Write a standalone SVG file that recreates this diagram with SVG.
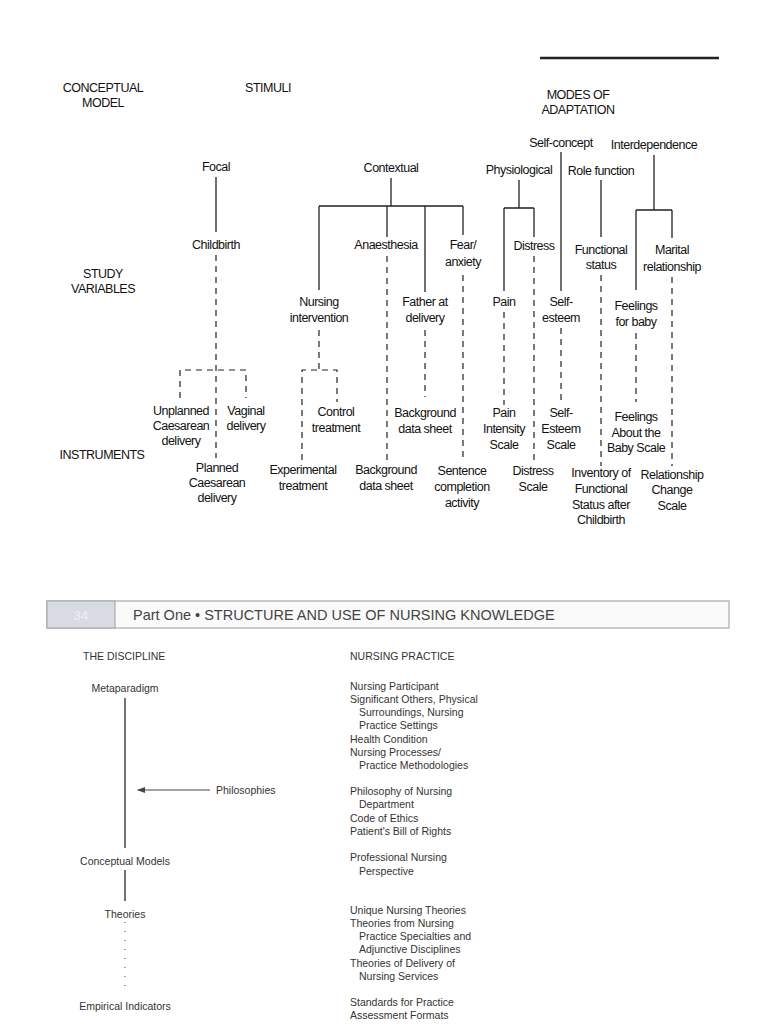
<svg xmlns="http://www.w3.org/2000/svg" width="768" height="1024" viewBox="0 0 768 1024">
<style>
.t{font-family:"Liberation Sans",Arial,sans-serif;font-size:12.5px;fill:#111;text-anchor:middle;letter-spacing:-0.5px}
.b{font-family:"Liberation Sans",Arial,sans-serif;font-size:10.5px;fill:#333}
.c{text-anchor:middle}
.s{stroke:#222;stroke-width:1.3;fill:none}
.d{stroke:#222;stroke-width:1.2;fill:none;stroke-dasharray:6 5}
.g{stroke:#444;stroke-width:1.5;fill:none}
</style>
<defs><marker id="ar" markerWidth="8" markerHeight="6" refX="7" refY="3" orient="auto" markerUnits="userSpaceOnUse"><path d="M0,0 L8,3 L0,6 Z" fill="#444"/></marker></defs>
<rect width="768" height="1024" fill="#fff"/>
<line x1="540" y1="58" x2="719" y2="58" stroke="#222" stroke-width="2.5"/>
<g id="headers">
<text class="t" x="103" y="92">CONCEPTUAL</text><text class="t" x="103" y="107">MODEL</text>
<text class="t" x="268" y="92">STIMULI</text>
<text class="t" x="578" y="99">MODES OF</text><text class="t" x="578" y="114">ADAPTATION</text>
<text class="t" x="103" y="278">STUDY</text><text class="t" x="103" y="293">VARIABLES</text>
<text class="t" x="102" y="459">INSTRUMENTS</text>
</g>
<g id="connectors">
<path class="s" d="M216,177V232 M391,178V206 M319,206H463 M319,206V290 M387,206V237 M425,206V292 M463,206V235 M519,180V208 M504,208H534 M504,208V291 M534,208V237 M561,152V291 M601,180V237 M654,155V210 M636,210H672 M636,210V290 M672,210V238"/>
<path class="d" d="M216,255V458 M180,398V370H246V398 M319,330V370 M302,460V370H337V402 M387,256V460 M425,330V397 M463,275V462 M504,312V405 M534,256V462 M561,328V402 M601,275V466 M636,333V402 M672,277V466"/>
</g>
<g id="n1">
<text class="t" x="216" y="171">Focal</text><text class="t" x="391" y="172">Contextual</text><text class="t" x="519" y="174">Physiological</text><text class="t" x="561" y="147">Self-concept</text><text class="t" x="601" y="175">Role function</text><text class="t" x="654" y="149">Interdependence</text>
<text class="t" x="216" y="249">Childbirth</text>
<text class="t" x="181" y="415">Unplanned</text><text class="t" x="181" y="430">Caesarean</text><text class="t" x="181" y="445">delivery</text>
<text class="t" x="246" y="415">Vaginal</text><text class="t" x="246" y="430">delivery</text>
<text class="t" x="217" y="472">Planned</text><text class="t" x="217" y="487">Caesarean</text><text class="t" x="217" y="502">delivery</text>
<text class="t" x="319" y="306">Nursing</text><text class="t" x="319" y="322">intervention</text>
<text class="t" x="336" y="416">Control</text><text class="t" x="336" y="432">treatment</text>
<text class="t" x="303" y="474">Experimental</text><text class="t" x="303" y="490">treatment</text>
<text class="t" x="386" y="249">Anaesthesia</text>
<text class="t" x="386" y="474">Background</text><text class="t" x="386" y="490">data sheet</text>
<text class="t" x="425" y="306">Father at</text><text class="t" x="425" y="322">delivery</text>
<text class="t" x="425" y="417">Background</text><text class="t" x="425" y="433">data sheet</text>
<text class="t" x="463" y="249">Fear/</text><text class="t" x="463" y="266">anxiety</text>
<text class="t" x="462" y="475">Sentence</text><text class="t" x="462" y="491">completion</text><text class="t" x="462" y="507">activity</text>
<text class="t" x="504" y="306">Pain</text>
<text class="t" x="504" y="417">Pain</text><text class="t" x="504" y="433">Intensity</text><text class="t" x="504" y="449">Scale</text>
<text class="t" x="534" y="250">Distress</text>
<text class="t" x="533" y="475">Distress</text><text class="t" x="533" y="491">Scale</text>
<text class="t" x="561" y="306">Self-</text><text class="t" x="561" y="322">esteem</text>
<text class="t" x="561" y="417">Self-</text><text class="t" x="561" y="433">Esteem</text><text class="t" x="561" y="449">Scale</text>
<text class="t" x="601" y="254">Functional</text><text class="t" x="601" y="269">status</text>
<text class="t" x="601" y="477">Inventory of</text><text class="t" x="601" y="493">Functional</text><text class="t" x="601" y="509">Status after</text><text class="t" x="601" y="524">Childbirth</text>
<text class="t" x="672" y="254">Marital</text><text class="t" x="672" y="271">relationship</text>
<text class="t" x="636" y="310">Feelings</text><text class="t" x="636" y="326">for baby</text>
<text class="t" x="636" y="421">Feelings</text><text class="t" x="636" y="437">About the</text><text class="t" x="636" y="452">Baby Scale</text>
<text class="t" x="672" y="479">Relationship</text><text class="t" x="672" y="494">Change</text><text class="t" x="672" y="510">Scale</text>
</g>
<g id="banner">
<rect x="47" y="601" width="682" height="27" fill="#fafafa" stroke="#aaa" stroke-width="1.2"/>
<rect x="47" y="601" width="68" height="27" fill="#d8dce2" stroke="#aaa" stroke-width="1.2"/>
<text x="81" y="620" font-family="Liberation Sans,Arial,sans-serif" font-size="13" fill="#eef" text-anchor="middle">34</text>
<text x="133" y="620" font-family="Liberation Sans,Arial,sans-serif" font-size="14.5" fill="#444">Part One  •  STRUCTURE AND USE OF NURSING KNOWLEDGE</text>
</g>
<g id="discipline">
<text class="b" x="83" y="660">THE DISCIPLINE</text>
<text class="b c" x="125" y="692">Metaparadigm</text>
<text class="b c" x="125" y="865">Conceptual Models</text>
<text class="b c" x="125" y="918">Theories</text>
<text class="b c" x="125" y="1010">Empirical Indicators</text>
<text class="b" x="216" y="794">Philosophies</text>
</g>
<g id="connectors2">
<line class="g" x1="125" y1="698" x2="125" y2="848"/>
<line class="g" x1="125" y1="870" x2="125" y2="901"/>
<line x1="125" y1="922" x2="125" y2="992" stroke="#666" stroke-width="1.2" stroke-dasharray="1 8"/>
<line x1="210" y1="790" x2="138" y2="790" stroke="#444" stroke-width="1.2" marker-end="url(#ar)"/>
</g>
<g id="practice" class="b">
<text x="350" y="660">NURSING PRACTICE</text>
<text x="350" y="690">Nursing Participant</text>
<text x="350" y="703">Significant Others, Physical</text>
<text x="359" y="716">Surroundings, Nursing</text>
<text x="359" y="729">Practice Settings</text>
<text x="350" y="743">Health Condition</text>
<text x="350" y="756">Nursing Processes/</text>
<text x="359" y="769">Practice Methodologies</text>
<text x="350" y="795">Philosophy of Nursing</text>
<text x="359" y="808">Department</text>
<text x="350" y="822">Code of Ethics</text>
<text x="350" y="835">Patient's Bill of Rights</text>
<text x="350" y="861">Professional Nursing</text>
<text x="359" y="875">Perspective</text>
<text x="350" y="914">Unique Nursing Theories</text>
<text x="350" y="927">Theories from Nursing</text>
<text x="359" y="940">Practice Specialties and</text>
<text x="359" y="953">Adjunctive Disciplines</text>
<text x="350" y="967">Theories of Delivery of</text>
<text x="359" y="980">Nursing Services</text>
<text x="350" y="1006">Standards for Practice</text>
<text x="350" y="1019">Assessment Formats</text>
</g>
</svg>
